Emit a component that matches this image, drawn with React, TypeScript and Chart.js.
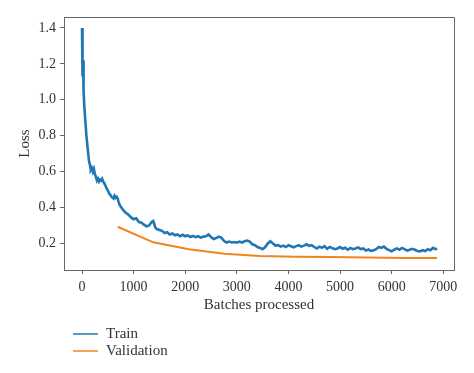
import React, { useEffect, useRef } from "react";
import { Chart, registerables } from "chart.js";

Chart.register(...registerables);

// Train loss (batches processed -> loss)
const trainBatches = [
  0, 5, 10, 15, 20, 30, 45, 65, 85, 110, 135, 155, 170, 190, 210, 230, 250, 270, 290, 310,
  330, 350, 370, 390, 410, 430, 450, 470, 490, 510, 530, 550, 570, 590, 610, 630, 650, 670, 690, 710,
  730, 750, 800, 850, 900, 950, 1000, 1050, 1100, 1150, 1200, 1250, 1300, 1350, 1380, 1420, 1450, 1500, 1550, 1600,
  1650, 1700, 1750, 1800, 1850, 1900, 1950, 2000, 2050, 2100, 2150, 2200, 2250, 2300, 2350, 2400, 2450, 2500, 2550, 2600,
  2650, 2700, 2750, 2800, 2850, 2900, 2950, 3000, 3050, 3100, 3150, 3200, 3250, 3300, 3350, 3400, 3450, 3500, 3550, 3600,
  3650, 3700, 3750, 3800, 3850, 3900, 3950, 4000, 4050, 4100, 4150, 4200, 4250, 4300, 4350, 4400, 4450, 4500, 4550, 4600,
  4650, 4700, 4750, 4800, 4850, 4900, 4950, 5000, 5050, 5100, 5150, 5200, 5250, 5300, 5350, 5400, 5450, 5500, 5550, 5600,
  5650, 5700, 5750, 5800, 5850, 5900, 5950, 6000, 6050, 6100, 6150, 6200, 6250, 6300, 6350, 6400, 6450, 6500, 6550, 6600,
  6650, 6700, 6750, 6800, 6850, 6880,
];
const trainLoss = [
  1.40, 1.16, 1.31, 1.13, 1.22, 1.05, 0.96, 0.88, 0.80, 0.73, 0.66, 0.635, 0.61, 0.62, 0.60, 0.615, 0.585, 0.57, 0.55, 0.56,
  0.545, 0.555, 0.55, 0.56, 0.545, 0.535, 0.525, 0.51, 0.50, 0.49, 0.475, 0.47, 0.46, 0.455, 0.45, 0.465, 0.455, 0.46, 0.45, 0.43,
  0.415, 0.405, 0.385, 0.37, 0.36, 0.345, 0.335, 0.34, 0.32, 0.315, 0.305, 0.295, 0.30, 0.32, 0.325, 0.29, 0.28, 0.275, 0.27, 0.258,
  0.262, 0.25, 0.255, 0.245, 0.25, 0.24, 0.248, 0.24, 0.245, 0.236, 0.242, 0.235, 0.24, 0.232, 0.238, 0.24, 0.25, 0.236, 0.225, 0.23,
  0.238, 0.232, 0.215, 0.205, 0.21, 0.205, 0.208, 0.204, 0.21, 0.205, 0.212, 0.216, 0.21, 0.195, 0.19, 0.18, 0.175, 0.168, 0.18, 0.20,
  0.212, 0.20, 0.188, 0.19, 0.182, 0.188, 0.18, 0.19, 0.184, 0.178, 0.185, 0.19, 0.182, 0.188, 0.195, 0.186, 0.19, 0.18, 0.172, 0.182,
  0.176, 0.185, 0.17, 0.18, 0.174, 0.168, 0.172, 0.18, 0.17, 0.176, 0.165, 0.175, 0.168, 0.172, 0.178, 0.168, 0.172, 0.16, 0.166, 0.158,
  0.162, 0.168, 0.18, 0.175, 0.182, 0.17, 0.163, 0.156, 0.165, 0.172, 0.165, 0.175, 0.168, 0.16, 0.165, 0.17, 0.165, 0.158, 0.155, 0.162,
  0.158, 0.168, 0.162, 0.175, 0.168, 0.172,
];

// Validation loss
const valBatches = [690, 1380, 2070, 2760, 3450, 4140, 4830, 5520, 6210, 6880];
const valLoss = [0.293, 0.206, 0.168, 0.142, 0.130, 0.126, 0.124, 0.121, 0.119, 0.119];

const xTicks = [0, 1000, 2000, 3000, 4000, 5000, 6000, 7000];
const yTicks = [0.2, 0.4, 0.6, 0.8, 1.0, 1.2, 1.4];

const seriesLabels = ["Train", "Validation"];
const seriesColors = ["#1f77b4", "#f0851f"];

const FONT = '"Liberation Serif", "DejaVu Serif", serif';
const AXIS = "#666666";
const TEXT = "#333333";

const framePlugin = {
  id: "frame",
  afterDraw(chart: any) {
    const { ctx, chartArea } = chart;
    ctx.save();
    ctx.strokeStyle = AXIS;
    ctx.lineWidth = 1;
    ctx.beginPath();
    ctx.moveTo(chartArea.left, chartArea.top + 0.5);
    ctx.lineTo(chartArea.right + 0.5, chartArea.top + 0.5);
    ctx.lineTo(chartArea.right + 0.5, chartArea.bottom);
    ctx.stroke();

    // legend below the axes
    const lx = 73;
    const ly = [334, 351];
    ctx.font = `15px ${FONT}`;
    ctx.textBaseline = "middle";
    ctx.textAlign = "left";
    seriesLabels.forEach((lab, i) => {
      ctx.strokeStyle = seriesColors[i];
      ctx.lineWidth = 1.5;
      ctx.beginPath();
      ctx.moveTo(lx, ly[i]);
      ctx.lineTo(lx + 25, ly[i]);
      ctx.stroke();
      ctx.fillStyle = TEXT;
      ctx.fillText(lab, lx + 33, ly[i]);
    });
    ctx.restore();
  },
};

export default function App() {
  const ref = useRef<HTMLCanvasElement | null>(null);

  useEffect(() => {
    if (!ref.current) return;
    const chart = new Chart(ref.current, {
      type: "line",
      data: {
        datasets: [
          {
            label: seriesLabels[0],
            data: trainBatches.map((x, i) => ({ x, y: trainLoss[i] })),
            borderColor: seriesColors[0],
            borderWidth: 2.6,
            pointRadius: 0,
            tension: 0,
          },
          {
            label: seriesLabels[1],
            data: valBatches.map((x, i) => ({ x, y: valLoss[i] })),
            borderColor: seriesColors[1],
            borderWidth: 2,
            pointRadius: 0,
            tension: 0,
          },
        ],
      },
      options: {
        animation: false,
        responsive: false,
        layout: { padding: { left: 16, top: 17, right: 20, bottom: 59 } },
        plugins: { legend: { display: false }, tooltip: { enabled: false } },
        scales: {
          x: {
            type: "linear",
            min: -349,
            max: 7208,
            afterBuildTicks: (s: any) => {
              s.ticks = xTicks.map((v) => ({ value: v }));
            },
            afterFit: (s: any) => {
              s.height = 44;
            },
            ticks: {
              font: { family: FONT, size: 14 },
              color: TEXT,
              padding: 5,
              maxRotation: 0,
              callback: (v: any) => String(v),
            },
            grid: { drawOnChartArea: false, drawTicks: true, tickLength: 4, tickColor: AXIS },
            border: { display: true, color: AXIS, width: 1 },
            title: {
              display: true,
              text: "Batches processed",
              font: { family: FONT, size: 15 },
              color: TEXT,
              padding: 0,
            },
          },
          y: {
            type: "linear",
            min: 0.052,
            max: 1.461,
            afterBuildTicks: (s: any) => {
              s.ticks = yTicks.map((v) => ({ value: v }));
            },
            afterFit: (s: any) => {
              s.width = 48;
            },
            ticks: {
              font: { family: FONT, size: 14 },
              color: TEXT,
              padding: 4,
              callback: (v: any) => Number(v).toFixed(1),
            },
            grid: { drawOnChartArea: false, drawTicks: true, tickLength: 4, tickColor: AXIS },
            border: { display: true, color: AXIS, width: 1 },
            title: {
              display: true,
              text: "Loss",
              font: { family: FONT, size: 15 },
              color: TEXT,
              padding: 0,
            },
          },
        },
      },
      plugins: [framePlugin],
    });
    return () => chart.destroy();
  }, []);

  return (
    <div style={{ position: "fixed", left: 0, top: 0, width: 474, height: 373, background: "#fff" }}>
      <canvas ref={ref} width={474} height={373} style={{ display: "block" }} />
    </div>
  );
}
